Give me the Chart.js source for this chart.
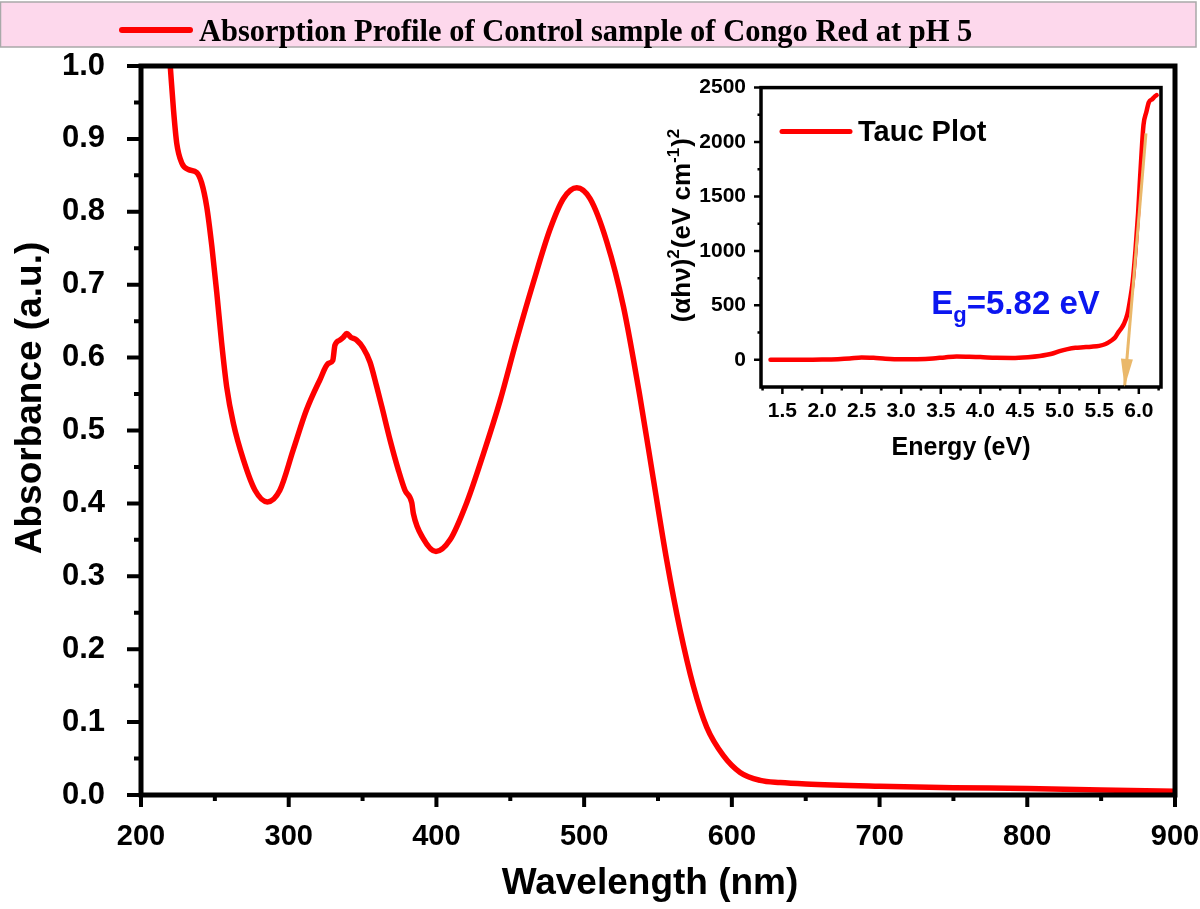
<!DOCTYPE html>
<html><head><meta charset="utf-8">
<script src="https://cdn.jsdelivr.net/npm/chart.js@4.4.1/dist/chart.umd.min.js"></script>
<style>
html,body{margin:0;padding:0;background:#fff;}
#wrap{position:relative;width:1200px;height:909px;overflow:hidden;}
#main{position:absolute;left:0;top:0;}
#inset{position:absolute;left:640px;top:60px;}
</style></head><body>
<div id="wrap"><canvas id="main" width="1200" height="909"></canvas><canvas id="inset" width="540" height="420"></canvas></div>
<script>
// ---------- data ----------
const wavelength = [219.8,222,224.2,227.6,232,237.7,241,244.5,248,251.3,254.6,258,262.5,269.3,277.2,285.5,294,303,312,321,326.8,329.8,331.3,334.7,337,339.3,342,346,350.5,355,359.6,363,368.6,374.2,378.7,383.3,384.4,391,399.7,409.2,420.5,431.8,443.1,454.4,465.6,476.9,485.9,495,504,515.3,526.6,537.8,546.8,555.9,564.9,574,583,594.3,605.6,619.2,632.7,650,700,750,800,850,900];
const absorbance = [1.0,0.94,0.894,0.867,0.858,0.854,0.840,0.807,0.752,0.689,0.620,0.560,0.510,0.460,0.418,0.402,0.418,0.473,0.528,0.569,0.592,0.596,0.617,0.624,0.628,0.633,0.628,0.624,0.613,0.594,0.560,0.533,0.487,0.446,0.418,0.401,0.386,0.352,0.334,0.350,0.401,0.468,0.541,0.625,0.703,0.776,0.818,0.833,0.818,0.759,0.670,0.546,0.434,0.322,0.227,0.149,0.093,0.054,0.031,0.020,0.017,0.015,0.012,0.010,0.009,0.007,0.005];
const energy = [1.35,1.6,1.8,2.0,2.2,2.35,2.5,2.65,2.8,3.0,3.2,3.4,3.55,3.7,3.85,4.0,4.2,4.4,4.6,4.75,4.9,5.0,5.1,5.2,5.3,5.4,5.5,5.58,5.65,5.7,5.743,5.78,5.811,5.856,5.887,5.923,5.959,5.991,6.014,6.036,6.059,6.095,6.126,6.171,6.203,6.225];
const tauc = [0,0,0,2,6,12,22,18,10,5,6,12,22,30,28,25,18,17,24,35,55,80,98,110,115,120,128,145,175,205,254,290,329,419,539,719,1018,1347,1647,1916,2156,2275,2365,2395,2419,2431];
const arrowE = [6.09, 5.82];
const arrowV = [2080, -250];
const mainXTicks = [200,300,400,500,600,700,800,900];
const mainYTicks = [0,0.1,0.2,0.3,0.4,0.5,0.6,0.7,0.8,0.9,1.0];
const insetXTicks = [1.5,2.0,2.5,3.0,3.5,4.0,4.5,5.0,5.5,6.0];
const insetYTicks = [0,500,1000,1500,2000,2500];
const mainLegendText = 'Absorption Profile of Control sample of Congo Red at pH 5';
const insetLegendText = 'Tauc Plot';
const egMain = 'E', egSub = 'g', egRest = '=5.82 eV';
const egPos = {x: 3.38, y: 420};
const xTitle = 'Wavelength (nm)', yTitle = 'Absorbance (a.u.)';
const ixTitle = 'Energy (eV)';
// inset y title pieces: [text, isSuperscript]
const iyTitleParts = [['(\u03B1h\u03BD)',false],['2',true],['(eV cm',false],['-1',true],[')',false],['2',true]];

const SANS = '"Liberation Sans", Arial, sans-serif';
const RED = '#ff0000';

function minors(major, min, max){
  const out=[]; const st = major[1]-major[0];
  const all = [major[0]-st, ...major];
  all.forEach(v=>{ const m=v+st/2; if(m>min+1e-9 && m<max-1e-9) out.push(m); });
  return out;
}

const frameTicks = {
  id:'frameTicks',
  afterDatasetsDraw(chart, args, o){
    const {ctx, chartArea:a, scales:{x,y}} = chart;
    ctx.save();
    ctx.strokeStyle='#000'; ctx.lineCap='butt';
    ctx.lineWidth=o.tickW;
    const xMaj=o.xMajor, yMaj=o.yMajor;
    const xMin=minors(xMaj, x.min, x.max), yMin=minors(yMaj, y.min, y.max);
    ctx.beginPath();
    xMaj.forEach(v=>{const p=x.getPixelForValue(v); ctx.moveTo(p,a.bottom); ctx.lineTo(p,a.bottom+o.xLen);});
    xMin.forEach(v=>{const p=x.getPixelForValue(v); ctx.moveTo(p,a.bottom); ctx.lineTo(p,a.bottom+o.xLen/2);});
    yMaj.forEach(v=>{const p=y.getPixelForValue(v); ctx.moveTo(a.left,p); ctx.lineTo(a.left-o.yLen,p);});
    yMin.forEach(v=>{const p=y.getPixelForValue(v); ctx.moveTo(a.left,p); ctx.lineTo(a.left-o.yLen/2,p);});
    ctx.stroke();
    ctx.lineWidth=o.frame;
    ctx.strokeRect(a.left,a.top,a.right-a.left,a.bottom-a.top);
    ctx.restore();
  }
};

const titleBar = {
  id:'titleBar',
  beforeDraw(chart){
    const ctx=chart.ctx;
    ctx.save();
    ctx.fillStyle='#fdd8ec';
    ctx.fillRect(0,2,1196,45);
    ctx.strokeStyle='#a9a9a9'; ctx.lineWidth=1.5;
    ctx.strokeRect(0.5,2,1195.5,45);
    ctx.strokeStyle=RED; ctx.lineWidth=6; ctx.lineCap='round';
    ctx.beginPath(); ctx.moveTo(122,30); ctx.lineTo(190,30); ctx.stroke();
    ctx.fillStyle='#000'; ctx.font='bold 30.5px "Liberation Serif", "Times New Roman", serif';
    ctx.textBaseline='alphabetic'; ctx.textAlign='left';
    ctx.fillText(mainLegendText,199,41);
    ctx.restore();
  },
  afterDraw(chart){
    const ctx=chart.ctx;
    ctx.save();
    ctx.fillStyle='#000'; ctx.font='bold 37px '+SANS;
    ctx.textAlign='center'; ctx.textBaseline='middle';
    ctx.fillText(xTitle,650,884);
    ctx.translate(31,398); ctx.rotate(-Math.PI/2);
    ctx.fillText(yTitle,0,0);
    ctx.restore();
  }
};

const insetExtras = {
  id:'insetExtras',
  afterDatasetsDraw(chart){
    const {ctx, chartArea:a, scales:{x,y}} = chart;
    ctx.save();
    // arrow head
    const meta = chart.getDatasetMeta(1);
    const p1 = meta.data[0], p2 = meta.data[1];
    const dx=p2.x-p1.x, dy=p2.y-p1.y, L=Math.hypot(dx,dy);
    const ux=dx/L, uy=dy/L, nx=-uy, ny=ux;
    const hl=28, hw=6;
    const bx=p2.x-ux*hl, by=p2.y-uy*hl;
    ctx.fillStyle='#eab86a';
    ctx.beginPath(); ctx.moveTo(p2.x,p2.y); ctx.lineTo(bx+nx*hw,by+ny*hw); ctx.lineTo(bx-nx*hw,by-ny*hw); ctx.closePath(); ctx.fill();
    // legend
    ctx.strokeStyle=RED; ctx.lineWidth=5; ctx.lineCap='round';
    ctx.beginPath(); ctx.moveTo(a.left+21,a.top+44); ctx.lineTo(a.left+89,a.top+44); ctx.stroke();
    ctx.fillStyle='#000'; ctx.font='bold 29px '+SANS; ctx.textBaseline='middle'; ctx.textAlign='left';
    ctx.fillText(insetLegendText,a.left+97,a.top+45);
    // Eg label
    const ex=x.getPixelForValue(egPos.x), ey=y.getPixelForValue(egPos.y);
    ctx.fillStyle='#0b16f0'; ctx.textBaseline='alphabetic';
    ctx.font='bold 33px '+SANS;
    ctx.fillText(egMain,ex,ey);
    let w=ctx.measureText(egMain).width;
    ctx.font='bold 22px '+SANS;
    ctx.fillText(egSub,ex+w,ey+8);
    w+=ctx.measureText(egSub).width;
    ctx.font='bold 33px '+SANS;
    ctx.fillText(egRest,ex+w,ey);
    ctx.restore();
  },
  afterDraw(chart){
    // rotated y title with superscripts
    const ctx=chart.ctx;
    const big='bold 26px '+SANS, small='bold 17px '+SANS;
    ctx.save();
    let total=0;
    iyTitleParts.forEach(([t,s])=>{ctx.font=s?small:big; total+=ctx.measureText(t).width+(s?1:0);});
    ctx.translate(50,165); ctx.rotate(-Math.PI/2);
    ctx.fillStyle='#000'; ctx.textBaseline='alphabetic'; ctx.textAlign='left';
    let cx=-total/2;
    iyTitleParts.forEach(([t,s])=>{
      ctx.font=s?small:big;
      ctx.fillText(t,cx,s?-11:0);
      cx+=ctx.measureText(t).width+(s?1:0);
    });
    ctx.restore();
  }
};

new Chart(document.getElementById('main'),{
  type:'line',
  data:{datasets:[{
    data: wavelength.map((w,i)=>({x:w,y:absorbance[i]})),
    borderColor:RED, borderWidth:5.5, pointRadius:0, cubicInterpolationMode:'monotone',
    borderJoinStyle:'round', borderCapStyle:'round', fill:false
  }]},
  options:{
    responsive:false, animation:false, devicePixelRatio:1,
    layout:{padding:{top:66,right:0,left:0,bottom:0}},
    plugins:{legend:{display:false}, tooltip:{enabled:false},
      frameTicks:{frame:5, tickW:4, xMajor:mainXTicks, yMajor:mainYTicks, xLen:12, yLen:14}},
    scales:{
      x:{type:'linear', min:200, max:900,
        afterBuildTicks:s=>{s.ticks=mainXTicks.map(v=>({value:v}));},
        afterFit:s=>{s.height=114; s.paddingRight=25; s.paddingLeft=0;},
        grid:{display:false, drawTicks:false}, border:{display:false},
        ticks:{padding:25, color:'#000', font:{family:SANS, weight:'bold', size:29}, callback:v=>String(v)},
        title:{display:false}
      },
      y:{type:'linear', min:0, max:1.0,
        afterBuildTicks:s=>{s.ticks=mainYTicks.map(v=>({value:v}));},
        afterFit:s=>{s.width=141;},
        grid:{display:false, drawTicks:false}, border:{display:false},
        ticks:{padding:36, color:'#000', font:{family:SANS, weight:'bold', size:31}, callback:v=>v.toFixed(1)},
        title:{display:false}
      }
    }
  },
  plugins:[titleBar, frameTicks]
});

new Chart(document.getElementById('inset'),{
  type:'line',
  data:{datasets:[{
    data: energy.map((e,i)=>({x:e,y:tauc[i]})),
    borderColor:RED, borderWidth:4.5, pointRadius:0, cubicInterpolationMode:'monotone',
    borderJoinStyle:'round', borderCapStyle:'round', fill:false, order:1
  },{
    data: arrowE.map((e,i)=>({x:e,y:arrowV[i]})),
    borderColor:'#eab86a', borderWidth:3, pointRadius:0, fill:false, order:0, clip:false
  }]},
  options:{
    responsive:false, animation:false, devicePixelRatio:1,
    layout:{padding:{top:22,right:19,left:0,bottom:0}},
    plugins:{legend:{display:false}, tooltip:{enabled:false},
      frameTicks:{frame:3.5, tickW:2.5, xMajor:insetXTicks, yMajor:insetYTicks, xLen:7, yLen:7}},
    scales:{
      x:{type:'linear', min:1.23, max:6.28,
        afterBuildTicks:s=>{s.ticks=insetXTicks.map(v=>({value:v}));},
        afterFit:s=>{s.height=93;},
        grid:{display:false, drawTicks:false}, border:{display:false},
        ticks:{padding:12, color:'#000', font:{family:SANS, weight:'bold', size:21}, callback:v=>v.toFixed(1)},
        title:{display:true, text:ixTitle, color:'#000', font:{family:SANS, weight:'bold', size:25}, padding:{top:0,bottom:17}}
      },
      y:{type:'linear', min:-250, max:2500,
        afterBuildTicks:s=>{s.ticks=insetYTicks.map(v=>({value:v}));},
        afterFit:s=>{s.width=121;},
        grid:{display:false, drawTicks:false}, border:{display:false},
        ticks:{padding:15, color:'#000', font:{family:SANS, weight:'bold', size:21}, callback:v=>String(v)},
        title:{display:false}
      }
    }
  },
  plugins:[frameTicks, insetExtras]
});
</script>
</body></html>
